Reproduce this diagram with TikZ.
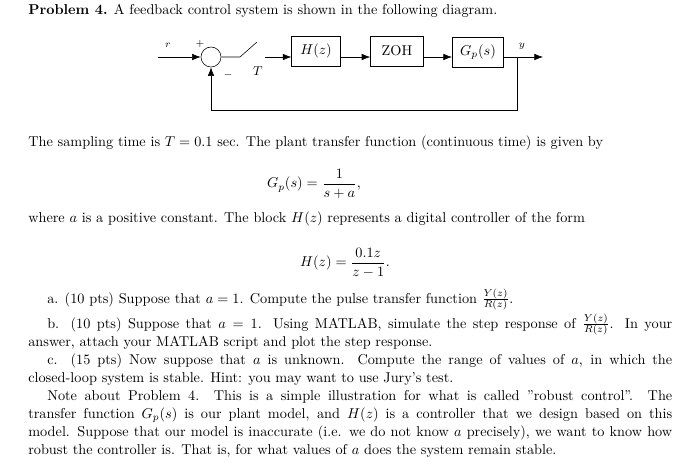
\documentclass[tikz,border=0pt]{standalone}
\usepackage{amsmath}
\usetikzlibrary{arrows.meta}
\begin{document}
\begin{tikzpicture}[x=0.7pt,y=-0.7pt,
  blk/.style={draw,minimum height=21pt,inner sep=2pt},
  sig/.style={-{Latex[length=6pt,width=4.5pt]}},
  txt/.style={anchor=base west,inner sep=0pt,font=\fontsize{10}{12}\selectfont}]
\useasboundingbox (0,0) rectangle (682,475);
% diagram
\node[draw,circle,minimum size=14pt,inner sep=0pt] (sum) at (211,57) {};
\coordinate (in) at (158,57);
\coordinate (sw1) at (240,57);
\coordinate (sw2) at (257,42);
\coordinate (sw3) at (265,57);
\node[blk,minimum width=34pt] (H) at (316,51) {$H(z)$};
\node[blk,minimum width=37pt] (Z) at (397,51) {ZOH};
\node[blk,minimum width=36pt] (G) at (478,52) {$G_p(s)$};
\coordinate (out) at (543,57);
\coordinate (tap) at (517,57);
\coordinate (bot) at (517,110);
\draw[sig] (in) -- (sum.west);
\draw (sum.east) -- (sw1) -- (sw2);
\draw[sig] (sw3) -- (H.west |- sw3);
\draw[sig] (H.east |- sw3) -- (Z.west |- sw3);
\draw[sig] (Z.east |- sw3) -- (G.west |- sw3);
\draw[sig] (G.east |- sw3) -- (out);
\draw[sig] (tap) -- (bot) -| (sum.south);
\node[font=\scriptsize] at (168,45) {$r$};
\node[font=\scriptsize] at (200,44) {$+$};
\node[font=\scriptsize] at (228,75) {$-$};
\node[font=\small] at (258,71) {$T$};
\node[font=\scriptsize] at (522,46) {$y$};
% text
\node[txt] at (28,14) {\textbf{Problem 4.} A feedback control system is shown in the following diagram.};
\node[txt] at (28,146) {The sampling time is $T=0.1$ sec. The plant transfer function (continuous time) is given by};
\node[anchor=center,inner sep=0pt,font=\fontsize{10}{12}\selectfont] at (314,184) {$G_p(s)=\dfrac{1}{s+a},$};
\node[txt] at (28,222) {where $a$ is a positive constant. The block $H(z)$ represents a digital controller of the form};
\node[anchor=center,inner sep=0pt,font=\fontsize{10}{12}\selectfont] at (345,263) {$H(z)=\dfrac{0.1z}{z-1}.$};
\node[txt] at (47,303) {a. (10 pts) Suppose that $a=1$. Compute the pulse transfer function $\frac{Y(z)}{R(z)}$.};
\node[txt] at (47,328) {\makebox[437.5pt][s]{b. (10 pts) Suppose that $a = 1$. Using MATLAB, simulate the step response of $\frac{Y(z)}{R(z)}$. In your}};
\node[txt] at (28,346) {answer, attach your MATLAB script and plot the step response.};
\node[txt] at (47,364) {\makebox[437.5pt][s]{c. (15 pts) Now suppose that $a$ is unknown. Compute the range of values of $a$, in which the}};
\node[txt] at (28,382) {closed-loop system is stable. Hint: you may want to use Jury's test.};
\node[txt] at (47,400) {\makebox[437.5pt][s]{Note about Problem 4. This is a simple illustration for what is called ''robust control''. The}};
\node[txt] at (28,418) {\makebox[450.8pt][s]{transfer function $G_p(s)$ is our plant model, and $H(z)$ is a controller that we design based on this}};
\node[txt] at (28,436) {\makebox[450.8pt][s]{model. Suppose that our model is inaccurate (i.e. we do not know $a$ precisely), we want to know how}};
\node[txt] at (28,454) {robust the controller is. That is, for what values of $a$ does the system remain stable.};
\end{tikzpicture}
\end{document}
